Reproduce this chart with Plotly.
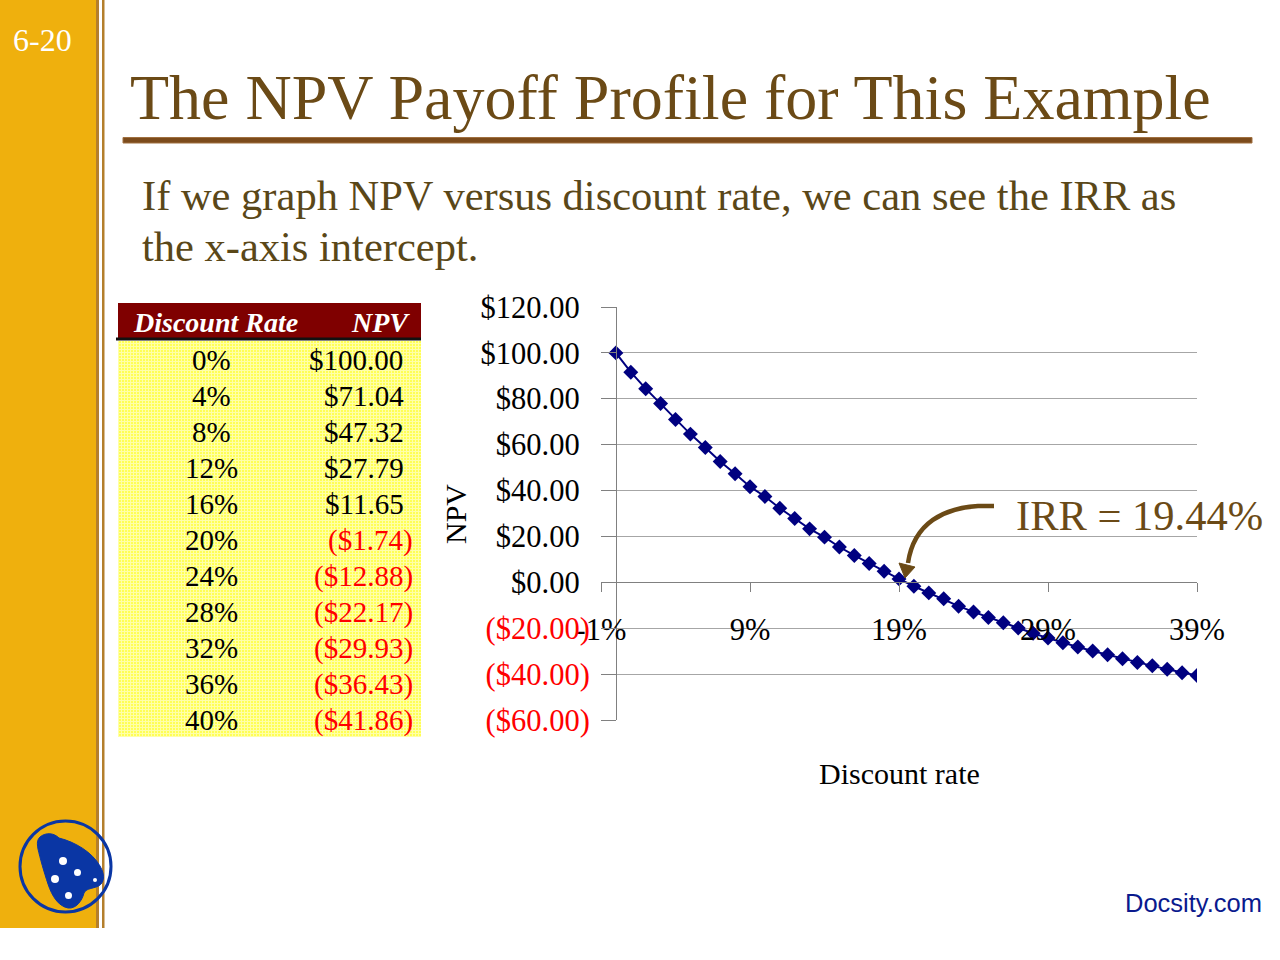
import plotly.graph_objects as go

W, H = 1280, 960

# ---------------- data ----------------
rates = [0, 1, 2, 3, 4, 5, 6, 7, 8, 9, 10, 11, 12, 13, 14, 15, 16, 17, 18, 19,
         20, 21, 22, 23, 24, 25, 26, 27, 28, 29, 30, 31, 32, 33, 34, 35, 36, 37, 38, 39]
npv_curve = [100.0, 91.6, 84.4, 77.9, 71.0, 64.6, 58.8, 52.7, 47.3, 41.7,
             37.4, 32.3, 27.8, 23.3, 19.7, 15.4, 11.7, 8.2, 4.8, 1.5,
             -1.7, -4.6, -7.2, -10.4, -12.9, -15.3, -17.6, -19.9, -22.2, -24.3,
             -26.3, -28.2, -29.9, -31.6, -33.3, -34.9, -36.4, -37.9, -39.4, -40.6]

x_tick_vals = [-1, 9, 19, 29, 39]
y_tick_vals = [120, 100, 80, 60, 40, 20, 0, -20, -40, -60]
x_range = [-1, 39]
y_range = [-60, 120]

table_rates = ["0%", "4%", "8%", "12%", "16%", "20%", "24%", "28%", "32%", "36%", "40%"]
table_npv = [100.00, 71.04, 47.32, 27.79, 11.65, -1.74, -12.88, -22.17, -29.93, -36.43, -41.86]

title_text = "The NPV Payoff Profile for This Example"
subtitle_lines = ["If we graph NPV versus discount rate, we can see the IRR as",
                  "the x-axis intercept."]
irr_label = "IRR = 19.44%"
slide_no = "6-20"
x_title = "Discount rate"
y_title = "NPV"
footer = "Docsity.com"

# ---------------- styles ----------------
SERIF = "Liberation Serif, Times New Roman, serif"
SANS = "Liberation Sans, Arial, sans-serif"
BROWN = "#6B4A16"
RED = "#FF0000"
NAVY = "#000080"
GRID = "#A6A6A6"

PL, PR, PT, PB = 601, 1197, 307, 720   # plot area in pixels
xdom = [PL / W, PR / W]
ydom = [1 - PB / H, 1 - PT / H]
x_axis_pos = ydom[0] + (0 - y_range[0]) / (y_range[1] - y_range[0]) * (ydom[1] - ydom[0])
y_axis_pos = xdom[0] + (0 - x_range[0]) / (x_range[1] - x_range[0]) * (xdom[1] - xdom[0])


def money(v):
    s = "${:,.2f}".format(abs(v))
    return "(" + s + ")" if v < 0 else s


def money_label(v):
    if v < 0:
        return "<span style='color:%s'>%s</span>" % (RED, money(v))
    return money(v) + "<span style='color:rgba(0,0,0,0)'>)</span>"


fig = go.Figure()

# main chart
fig.add_trace(go.Scatter(
    x=rates, y=npv_curve, mode="lines+markers",
    line=dict(color=NAVY, width=2),
    marker=dict(symbol="diamond", size=11.5, color=NAVY),
    xaxis="x", yaxis="y", hoverinfo="skip"))

# table body (patterned) on the full-canvas pixel overlay
tb_l, tb_r, tb_t, tb_b = 118, 421, 341, 737
fig.add_trace(go.Scatter(
    x=[tb_l, tb_r, tb_r, tb_l, tb_l], y=[tb_t, tb_t, tb_b, tb_b, tb_t],
    mode="lines", line=dict(width=0), fill="toself",
    fillcolor="#FFFF80",
    fillpattern=dict(shape="+", bgcolor="#FFFF50", fgcolor="#FFFFFF", size=3, solidity=0.6),
    xaxis="x2", yaxis="y2", hoverinfo="skip"))

shapes = []
ann = []


def px_shape(**kw):
    d = dict(xref="x2", yref="y2")
    d.update(kw)
    shapes.append(d)


def px_text(x, y, text, size, color, font=SERIF, xanchor="left", yanchor="middle", **kw):
    d = dict(x=x, y=y, xref="x2", yref="y2", text=text, showarrow=False,
             xanchor=xanchor, yanchor=yanchor,
             font=dict(family=font, size=size, color=color))
    d.update(kw)
    ann.append(d)


# left orange band and stripes
px_shape(type="rect", x0=0, x1=96, y0=0, y1=928, fillcolor="#EFB00D", line_width=0, layer="below")
px_shape(type="rect", x0=96, x1=99, y0=0, y1=928, fillcolor="#B47F2C", line_width=0, layer="below")
px_shape(type="rect", x0=102, x1=104.5, y0=0, y1=928, fillcolor="#B47F2C", line_width=0, layer="below")
px_text(42, 40, slide_no, 32, "white", xanchor="center")

# title + underline
px_text(128, 97, title_text, 64, BROWN)
px_shape(type="rect", x0=123, x1=1252, y0=137.5, y1=143, fillcolor="#7C4B1C",
         line=dict(color="#A07040", width=1), layer="below")

# subtitle
for i, line in enumerate(subtitle_lines):
    px_text(140, 195 + 51 * i, line, 42.5, "#5A4718")

# table header
px_shape(type="rect", x0=118, x1=421, y0=303, y1=338.5, fillcolor="#7F0000", line_width=0, layer="below")
px_shape(type="rect", x0=116, x1=421, y0=337.5, y1=340.5, fillcolor="#111111", line_width=0, layer="below")
px_text(131, 322, "<b><i>Discount Rate</i></b>", 28, "white")
px_text(412, 322, "<b><i>NPV</i></b>", 28, "white", xanchor="right")

for i, (r, v) in enumerate(zip(table_rates, table_npv)):
    yy = 360 + 36 * i
    px_text(211, yy, r, 29, "black", xanchor="center")
    if v < 0:
        px_text(415, yy, money(v), 29, RED, xanchor="right")
    else:
        px_text(415, yy, money(v) + "<span style='color:rgba(0,0,0,0)'>)</span>", 29, "black",
                xanchor="right")

# axis titles
px_text(455, 514, y_title, 30, "black", xanchor="center", textangle=-90)
px_text(899, 773, x_title, 30, "black", xanchor="center")

# IRR label and curved arrow
px_text(1014, 515, irr_label, 42.5, BROWN)
px_shape(type="path", path="M 994,506 L 978,506 C 945,508 914,522 908,563",
         line=dict(color=BROWN, width=4.5))
px_shape(type="path", path="M 899,563 L 915,567 L 905,578 Z", fillcolor=BROWN,
         line=dict(color=BROWN, width=1))

# logo
LOGO = "#0A36A4"
px_shape(type="circle", x0=20, x1=111, y0=821, y1=912, line=dict(color=LOGO, width=3))
px_shape(type="path",
         path=("M 40,837 C 46,832 54,833 59,838 C 75,842 92,852 100,866 "
               "C 106,876 104,885 96,887 C 90,889 86,889 84,893 C 82,901 76,909 68,908 "
               "C 58,906 52,896 48,884 C 44,872 40,858 38,849 C 37,843 37,840 40,837 Z"),
         fillcolor=LOGO, line=dict(color=LOGO, width=1))
for cx, cy, rr in [(63, 861, 4), (77.5, 872.5, 3.5), (55, 879, 4), (95, 880, 2), (68.5, 895.5, 3.5)]:
    px_shape(type="circle", x0=cx - rr, x1=cx + rr, y0=cy - rr, y1=cy + rr,
             fillcolor="white", line_width=0)

# footer
px_text(1264, 903, footer, 25.5, "#0A1A8E", font=SANS, xanchor="right")

fig.update_layout(
    width=W, height=H, margin=dict(l=0, r=0, t=0, b=0, pad=0, autoexpand=False),
    paper_bgcolor="white", plot_bgcolor="rgba(0,0,0,0)",
    showlegend=False, shapes=shapes, annotations=ann,
    xaxis=dict(domain=xdom, range=x_range, anchor="free", position=x_axis_pos, automargin=False,
               tickvals=x_tick_vals, ticktext=["%d%%" % v for v in x_tick_vals],
               showgrid=False, zeroline=False, showline=True, linecolor="#808080", linewidth=1,
               ticks="outside", ticklen=9, tickcolor="#808080", ticklabelstandoff=11,
               tickfont=dict(family=SERIF, size=30.5, color="black"), fixedrange=True),
    yaxis=dict(domain=ydom, range=y_range, anchor="free", position=y_axis_pos, automargin=False,
               tickvals=y_tick_vals, ticktext=[money_label(v) for v in y_tick_vals],
               showgrid=True, gridcolor=GRID, gridwidth=1, zeroline=False,
               showline=True, linecolor="#808080", linewidth=1,
               ticks="outside", ticklen=15, tickcolor="#808080", ticklabelstandoff=5,
               tickfont=dict(family=SERIF, size=30.5, color="black"), fixedrange=True),
    xaxis2=dict(domain=[0, 1], range=[0, W], anchor="y2", visible=False, fixedrange=True,
                automargin=False),
    yaxis2=dict(domain=[0, 1], range=[H, 0], anchor="x2", visible=False, fixedrange=True,
                automargin=False),
)

fig.write_html("out.html", config={"displayModeBar": False})
